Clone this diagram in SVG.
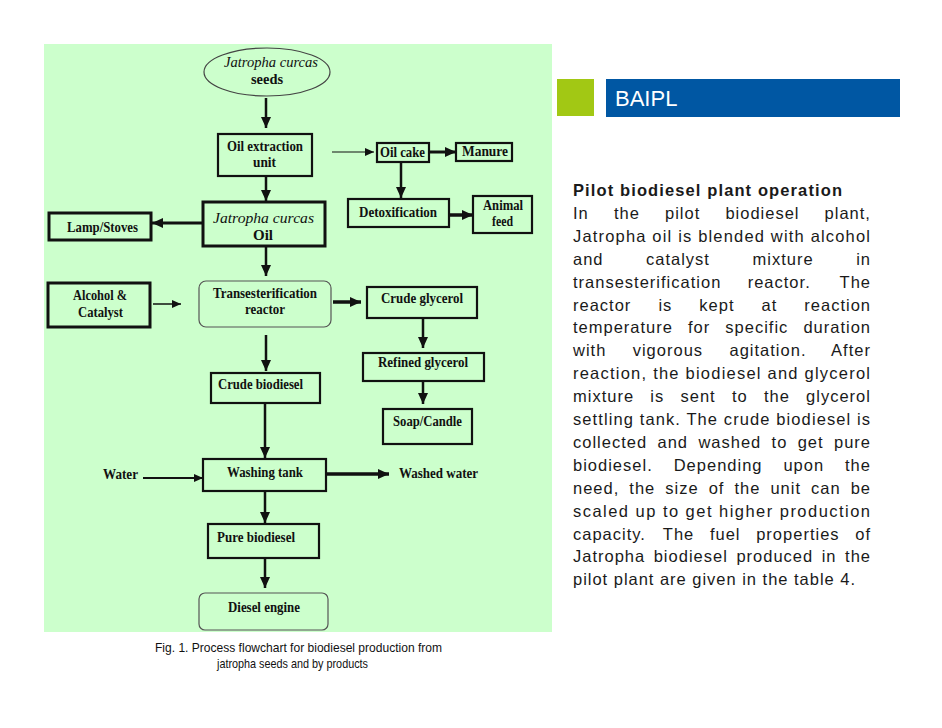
<svg xmlns="http://www.w3.org/2000/svg" width="942" height="728" viewBox="0 0 942 728">
<style>
.lb{font-family:"Liberation Serif","Times New Roman",serif;font-weight:bold;font-size:15px;fill:#111}
.it{font-family:"Liberation Serif","Times New Roman",serif;font-style:italic;font-size:15px;fill:#111}
.bx{fill:none;stroke:#111;stroke-width:2.2}
.bxt{fill:none;stroke:#111;stroke-width:3}
.rb{fill:none;stroke:#555;stroke-width:1.2}
.c{stroke:#111;fill:none}
.body{font-family:"Liberation Sans",Arial,sans-serif;font-size:16.5px;fill:#1a1a1a;letter-spacing:1px}
.cap{font-family:"Liberation Sans",Arial,sans-serif;font-size:13px;fill:#111}
</style>
<defs>
<marker id="ah" markerUnits="userSpaceOnUse" markerWidth="12" markerHeight="12" viewBox="0 0 12 12" refX="11" refY="6" orient="auto">
<path d="M0,1 L11,6 L0,11 Z" fill="#111"/>
</marker>
<marker id="ahs" markerUnits="userSpaceOnUse" markerWidth="10" markerHeight="10" viewBox="0 0 10 10" refX="9" refY="5" orient="auto">
<path d="M0,1 L9,5 L0,9 Z" fill="#111"/>
</marker>
</defs>
<rect x="0" y="0" width="942" height="728" fill="#ffffff"/>
<rect x="44" y="44" width="508" height="588" fill="#ccffcc"/>

<g id="header">
<rect x="557" y="79" width="37" height="37" fill="#a2c814"/>
<rect x="606" y="79" width="294" height="38" fill="#0057a3"/>
<text x="615" y="106" font-family="Liberation Sans, Arial, sans-serif" font-size="22" fill="#ffffff">BAIPL</text>
</g>

<g id="connectors">
<line class="c" stroke-width="2.5" x1="266" y1="98" x2="266" y2="128" marker-end="url(#ah)"/>
<line class="c" stroke-width="2.5" x1="266" y1="176" x2="266" y2="201" marker-end="url(#ah)"/>
<line class="c" stroke-width="2.5" x1="266" y1="246" x2="266" y2="276" marker-end="url(#ah)"/>
<line class="c" stroke-width="2.5" x1="266" y1="335" x2="266" y2="371" marker-end="url(#ah)"/>
<line class="c" stroke-width="2.5" x1="265" y1="403" x2="265" y2="458" marker-end="url(#ah)"/>
<line class="c" stroke-width="2.5" x1="265" y1="491" x2="265" y2="523" marker-end="url(#ah)"/>
<line class="c" stroke-width="2.5" x1="265" y1="558" x2="265" y2="588" marker-end="url(#ah)"/>
<line class="c" stroke-width="2.5" x1="401" y1="162" x2="401" y2="198" marker-end="url(#ah)"/>
<line class="c" stroke-width="2.5" x1="423" y1="318" x2="423" y2="348" marker-end="url(#ah)"/>
<line class="c" stroke-width="2.5" x1="423" y1="381" x2="423" y2="404" marker-end="url(#ah)"/>
<line class="c" stroke-width="3" x1="203" y1="223" x2="152" y2="223" marker-end="url(#ah)"/>
<line class="c" stroke-width="1.2" x1="332" y1="152" x2="374" y2="152" marker-end="url(#ahs)"/>
<line class="c" stroke-width="3" x1="429" y1="152" x2="456" y2="152" marker-end="url(#ah)"/>
<line class="c" stroke-width="3.5" x1="449" y1="215" x2="473" y2="215" marker-end="url(#ah)"/>
<line class="c" stroke-width="1.5" x1="153" y1="304" x2="181" y2="304" marker-end="url(#ahs)"/>
<line class="c" stroke-width="3.5" x1="333" y1="302" x2="361" y2="302" marker-end="url(#ah)"/>
<line class="c" stroke-width="2" x1="143" y1="478" x2="203" y2="478" marker-end="url(#ahs)"/>
<line class="c" stroke-width="3.5" x1="326" y1="474" x2="389" y2="474" marker-end="url(#ah)"/>
</g>

<g id="seeds">
<ellipse cx="267" cy="72" rx="63" ry="24" fill="none" stroke="#444" stroke-width="1.2"/>
<text class="it" x="224" y="67" textLength="94" lengthAdjust="spacingAndGlyphs">Jatropha curcas</text>
<text class="lb" x="251" y="84" textLength="32" lengthAdjust="spacingAndGlyphs">seeds</text>
</g>
<g id="oil-extraction">
<rect class="bx" x="218" y="134" width="94" height="42"/>
<text class="lb" x="227" y="151" textLength="76" lengthAdjust="spacingAndGlyphs" style="font-size:14px">Oil extraction</text>
<text class="lb" x="253" y="167" textLength="23" lengthAdjust="spacingAndGlyphs" style="font-size:14px">unit</text>
</g>
<g id="oil">
<rect class="bxt" x="203" y="202" width="122" height="44"/>
<text class="it" x="213" y="223" textLength="101" lengthAdjust="spacingAndGlyphs">Jatropha curcas</text>
<text class="lb" x="253" y="240" textLength="20" lengthAdjust="spacingAndGlyphs">Oil</text>
</g>
<g id="lamp">
<rect class="bxt" x="49" y="213" width="102" height="27"/>
<text class="lb" x="67" y="232" textLength="71" lengthAdjust="spacingAndGlyphs">Lamp/Stoves</text>
</g>
<g id="oil-cake">
<rect class="bx" x="377" y="143" width="52" height="19"/>
<text class="lb" x="380" y="157" textLength="45" lengthAdjust="spacingAndGlyphs">Oil cake</text>
</g>
<g id="manure">
<rect class="bx" x="456" y="143" width="56" height="18"/>
<text class="lb" x="462" y="156" textLength="46" lengthAdjust="spacingAndGlyphs">Manure</text>
</g>
<g id="detox">
<rect class="bx" x="348" y="199" width="101" height="28"/>
<text class="lb" x="359" y="217" textLength="78" lengthAdjust="spacingAndGlyphs">Detoxification</text>
</g>
<g id="animal-feed">
<rect class="bx" x="473" y="196" width="59" height="37"/>
<text class="lb" x="483" y="210" textLength="40" lengthAdjust="spacingAndGlyphs">Animal</text>
<text class="lb" x="492" y="226" textLength="21" lengthAdjust="spacingAndGlyphs">feed</text>
</g>
<g id="alcohol">
<rect class="bxt" x="48" y="283" width="102" height="44"/>
<text class="lb" x="73" y="300" textLength="54" lengthAdjust="spacingAndGlyphs">Alcohol &amp;</text>
<text class="lb" x="78" y="317" textLength="45" lengthAdjust="spacingAndGlyphs">Catalyst</text>
</g>
<g id="trans">
<rect class="rb" x="199" y="281" width="132" height="46" rx="7"/>
<text class="lb" x="213" y="298" textLength="104" lengthAdjust="spacingAndGlyphs">Transesterification</text>
<text class="lb" x="245" y="314" textLength="40" lengthAdjust="spacingAndGlyphs">reactor</text>
</g>
<g id="crude-glycerol">
<rect class="bx" x="367" y="287" width="110" height="31"/>
<text class="lb" x="381" y="303" textLength="82" lengthAdjust="spacingAndGlyphs">Crude glycerol</text>
</g>
<g id="refined-glycerol">
<rect class="bx" x="363" y="353" width="121" height="28"/>
<text class="lb" x="378" y="367" textLength="90" lengthAdjust="spacingAndGlyphs">Refined glycerol</text>
</g>
<g id="soap">
<rect class="bx" x="383" y="409" width="89" height="35"/>
<text class="lb" x="393" y="426" textLength="69" lengthAdjust="spacingAndGlyphs">Soap/Candle</text>
</g>
<g id="crude-biodiesel">
<rect class="bx" x="211" y="373" width="109" height="30"/>
<text class="lb" x="218" y="389" textLength="85" lengthAdjust="spacingAndGlyphs">Crude biodiesel</text>
</g>
<g id="water">
<text class="lb" x="103" y="479" textLength="35" lengthAdjust="spacingAndGlyphs">Water</text>
</g>
<g id="washing">
<rect class="bx" x="203" y="459" width="123" height="32"/>
<text class="lb" x="227" y="477" textLength="76" lengthAdjust="spacingAndGlyphs">Washing tank</text>
</g>
<g id="washed-water">
<text class="lb" x="399" y="478" textLength="79" lengthAdjust="spacingAndGlyphs">Washed water</text>
</g>
<g id="pure">
<rect class="bx" x="208" y="524" width="111" height="34"/>
<text class="lb" x="217" y="542" textLength="78" lengthAdjust="spacingAndGlyphs">Pure biodiesel</text>
</g>
<g id="engine">
<rect class="rb" x="199" y="593" width="129" height="37" rx="6"/>
<text class="lb" x="228" y="612" textLength="72" lengthAdjust="spacingAndGlyphs">Diesel engine</text>
</g>

<g id="caption">
<text class="cap" x="155" y="652" textLength="287" lengthAdjust="spacingAndGlyphs">Fig. 1. Process flowchart for biodiesel production from</text>
<text class="cap" x="217" y="668" textLength="151" lengthAdjust="spacingAndGlyphs">jatropha seeds and by products</text>
</g>

<g id="body-text">
<text x="573" y="196" font-family="Liberation Sans, Arial, sans-serif" font-size="16.5" font-weight="bold" fill="#1a1a1a" textLength="269" lengthAdjust="spacing">Pilot biodiesel plant operation</text>
<text class="body" y="218.9"><tspan x="573">In</tspan><tspan x="613.9">the</tspan><tspan x="665">pilot</tspan><tspan x="725.4">biodiesel</tspan><tspan x="824.6">plant,</tspan></text>
<text class="body" x="573" y="241.8" textLength="297" lengthAdjust="spacing" style="letter-spacing:0">Jatropha oil is blended with alcohol</text>
<text class="body" y="264.7"><tspan x="573">and</tspan><tspan x="646">catalyst</tspan><tspan x="752.5">mixture</tspan><tspan x="856.2">in</tspan></text>
<text class="body" y="287.6"><tspan x="573">transesterification</tspan><tspan x="747.7">reactor.</tspan><tspan x="839.6">The</tspan></text>
<text class="body" y="310.5"><tspan x="573">reactor</tspan><tspan x="658.4">is</tspan><tspan x="699.3">kept</tspan><tspan x="761.5">at</tspan><tspan x="804.3">reaction</tspan></text>
<text class="body" y="333.4"><tspan x="573">temperature</tspan><tspan x="688">for</tspan><tspan x="725.3">specific</tspan><tspan x="803.4">duration</tspan></text>
<text class="body" y="356.3"><tspan x="573">with</tspan><tspan x="632.7">vigorous</tspan><tspan x="729.5">agitation.</tspan><tspan x="831.1">After</tspan></text>
<text class="body" x="573" y="379.2" textLength="297" lengthAdjust="spacing" style="letter-spacing:0">reaction, the biodiesel and glycerol</text>
<text class="body" y="402.1"><tspan x="573">mixture</tspan><tspan x="650.3">is</tspan><tspan x="680.5">sent</tspan><tspan x="731.9">to</tspan><tspan x="764">the</tspan><tspan x="806.1">glycerol</tspan></text>
<text class="body" x="573" y="425" textLength="297" lengthAdjust="spacing" style="letter-spacing:0">settling tank. The crude biodiesel is</text>
<text class="body" y="447.9"><tspan x="573">collected</tspan><tspan x="657.5">and</tspan><tspan x="698.4">washed</tspan><tspan x="771.6">to</tspan><tspan x="797.7">get</tspan><tspan x="834">pure</tspan></text>
<text class="body" y="470.8"><tspan x="573">biodiesel.</tspan><tspan x="673.7">Depending</tspan><tspan x="783.4">upon</tspan><tspan x="845">the</tspan></text>
<text class="body" y="493.7"><tspan x="573">need,</tspan><tspan x="629.3">the</tspan><tspan x="665.3">size</tspan><tspan x="708.7">of</tspan><tspan x="734.4">the</tspan><tspan x="770.4">unit</tspan><tspan x="811">can</tspan><tspan x="850.7">be</tspan></text>
<text class="body" x="573" y="516.6" textLength="297" lengthAdjust="spacing" style="letter-spacing:0">scaled up to get higher production</text>
<text class="body" y="539.5"><tspan x="573">capacity.</tspan><tspan x="662.8">The</tspan><tspan x="709.9">fuel</tspan><tspan x="756.2">properties</tspan><tspan x="855.3">of</tspan></text>
<text class="body" y="562.4"><tspan x="573">Jatropha</tspan><tspan x="653.7">biodiesel</tspan><tspan x="736.4">produced</tspan><tspan x="821.7">in</tspan><tspan x="845.1">the</tspan></text>
<text class="body" x="573" y="585.3" textLength="282" lengthAdjust="spacing" style="letter-spacing:0">pilot plant are given in the table 4.</text>
</g>
</svg>
